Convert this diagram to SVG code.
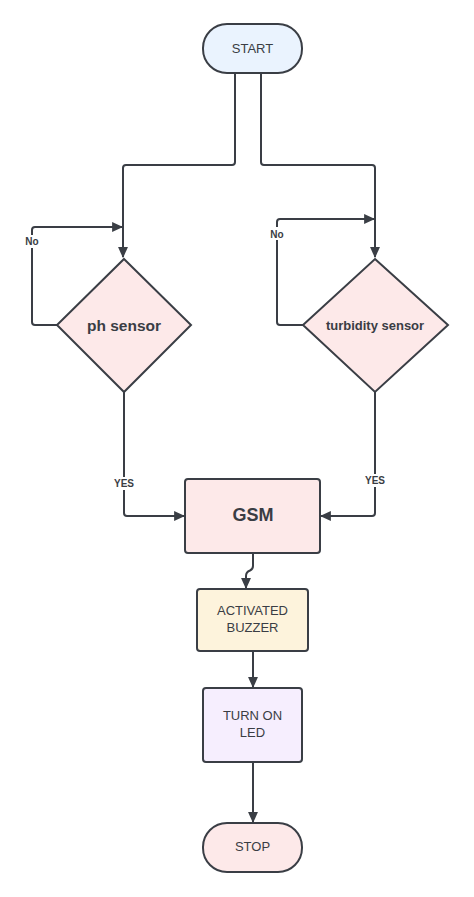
<svg xmlns="http://www.w3.org/2000/svg" width="474" height="897" viewBox="0 0 474 897">
<defs>
<style>
.n{stroke:#3a3e45;stroke-width:2}
.c{fill:none;stroke:#3a3e45;stroke-width:2;stroke-linejoin:round}
.t{font-family:"Liberation Sans",Arial,sans-serif;fill:#3a3d44;text-anchor:middle}
.b{font-weight:bold}
.lbl{font-family:"Liberation Sans",Arial,sans-serif;fill:#3a3d44;font-size:10px;font-weight:bold;text-anchor:middle}
</style>
<marker id="ah" viewBox="0 0 10 10" refX="9" refY="5" markerWidth="11" markerHeight="11" markerUnits="userSpaceOnUse" orient="auto">
<path d="M0,0.5 L10,5 L0,9.5 Z" fill="#3a3e45"/>
</marker>
</defs>
<rect width="474" height="897" fill="#ffffff"/>
<g id="connectors">
<path class="c" d="M235,73 L235,162 Q235,165 232,165 L126,165 Q123,165 123,168 L123,257" marker-end="url(#ah)"/>
<path class="c" d="M261,73 L261,162 Q261,165 264,165 L372,165 Q375,165 375,168 L375,257" marker-end="url(#ah)"/>
<path class="c" d="M57,325 L35,325 Q32,325 32,322 L32,230 Q32,227 35,227 L122,227" marker-end="url(#ah)"/>
<path class="c" d="M303,325 L280,325 Q277,325 277,322 L277,222 Q277,219 280,219 L374,219" marker-end="url(#ah)"/>
<path class="c" d="M124,392 L124,513 Q124,516 127,516 L184,516" marker-end="url(#ah)"/>
<path class="c" d="M375,392 L375,513 Q375,516 372,516 L321,516" marker-end="url(#ah)"/>
<path class="c" d="M253,553 L253,566 Q253,569 250,570.5 Q246,572 246,576 L246,588" marker-end="url(#ah)"/>
<path class="c" d="M253,651 L253,687" marker-end="url(#ah)"/>
<path class="c" d="M253,762 L253,822" marker-end="url(#ah)"/>
<rect x="20" y="235" width="24" height="13" fill="#ffffff"/>
<text class="lbl" x="32" y="245">No</text>
<rect x="265" y="227" width="24" height="13" fill="#ffffff"/>
<text class="lbl" x="277" y="238">No</text>
<rect x="110" y="477" width="28" height="13" fill="#ffffff"/>
<text class="lbl" x="124" y="487">YES</text>
<rect x="361" y="474" width="28" height="13" fill="#ffffff"/>
<text class="lbl" x="375" y="484">YES</text>
</g>
<g id="start">
<rect class="n" x="203" y="24" width="99" height="49" rx="24" fill="#eaf3fe"/>
<text class="t" x="252.5" y="52.5" font-size="13">START</text>
</g>
<g id="ph-sensor">
<polygon class="n" points="124,259 191,325 124,392 57,325" fill="#fde9e9"/>
<text class="t b" x="124" y="330.5" font-size="15.5">ph sensor</text>
</g>
<g id="turbidity-sensor">
<polygon class="n" points="375,259 448,325 375,392 303,325" fill="#fde9e9"/>
<text class="t b" x="375" y="329.5" font-size="13">turbidity sensor</text>
</g>
<g id="gsm">
<rect class="n" x="185" y="479" width="135" height="74" rx="3" fill="#fde9e9"/>
<text class="t b" x="253" y="520.5" font-size="18">GSM</text>
</g>
<g id="buzzer">
<rect class="n" x="197" y="589" width="111" height="62" rx="3" fill="#fdf3dc"/>
<text class="t" x="252.5" y="615" font-size="13">ACTIVATED</text>
<text class="t" x="252.5" y="632" font-size="13">BUZZER</text>
</g>
<g id="led">
<rect class="n" x="203" y="688" width="99" height="74" rx="3" fill="#f6eefe"/>
<text class="t" x="252.5" y="720" font-size="13">TURN ON</text>
<text class="t" x="252.5" y="737" font-size="13">LED</text>
</g>
<g id="stop">
<rect class="n" x="203" y="823" width="99" height="49" rx="24" fill="#fde9e9"/>
<text class="t" x="252.5" y="851" font-size="13">STOP</text>
</g>
</svg>
